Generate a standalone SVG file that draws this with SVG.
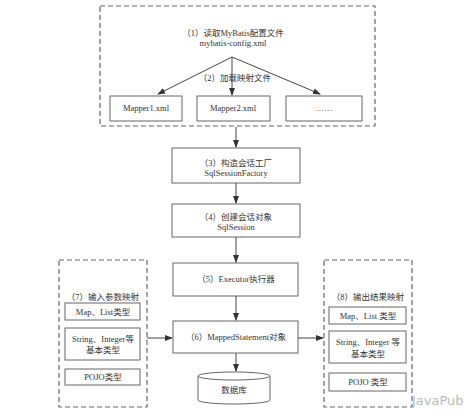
<svg xmlns="http://www.w3.org/2000/svg" width="474" height="418" viewBox="0 0 474 418">
<style>
.bg{fill:#fff}
.box{fill:#fff;stroke:#666;stroke-width:1}
.dash{fill:none;stroke:#666;stroke-width:1.2;stroke-dasharray:5,3}
.t{font-family:"Liberation Serif","Noto Sans CJK SC",serif;font-size:8.5px;fill:#333;text-anchor:middle}
.ln{stroke:#444;stroke-width:1;fill:none}
.wm{font-family:"DejaVu Sans",sans-serif;font-size:13px;fill:#bbb}
</style>
<defs>
<marker id="ah" markerWidth="8" markerHeight="6" refX="7" refY="3" orient="auto" markerUnits="userSpaceOnUse">
<path d="M0,0 L8,3 L0,6 Z" fill="#333"/>
</marker>
</defs>
<rect class="bg" x="0" y="0" width="474" height="418"/>

<g id="config">
<rect class="dash" x="100" y="6" width="275" height="120"/>
<text class="t" x="233" y="36">（1）读取MyBatis配置文件</text>
<text class="t" x="233" y="46">mybatis-config.xml</text>
<text class="t" x="235" y="81">（2）加载映射文件</text>
</g>
<g id="mapper1"><rect class="box" x="110" y="96" width="72" height="25"/><text class="t" x="146" y="111">Mapper1.xml</text></g>
<g id="mapper2"><rect class="box" x="197" y="96" width="73" height="25"/><text class="t" x="233" y="111">Mapper2.xml</text></g>
<g id="mapper3"><rect class="box" x="286" y="96" width="76" height="25"/><text class="t" x="324" y="111">……</text></g>

<g id="factory"><rect class="box" x="172" y="148" width="128" height="35"/><text class="t" x="236" y="166">（3）构造会话工厂</text><text class="t" x="236" y="176">SqlSessionFactory</text></g>
<g id="session"><rect class="box" x="172" y="204" width="128" height="33"/><text class="t" x="236" y="220">（4）创建会话对象</text><text class="t" x="236" y="230">SqlSession</text></g>
<g id="executor"><rect class="box" x="173" y="263" width="125" height="33"/><text class="t" x="236" y="282">（5）Executor执行器</text></g>
<g id="mapped"><rect class="box" x="173" y="321" width="125" height="32"/><text class="t" x="236" y="340">（6）MappedStatement对象</text></g>
<g id="db">
<path class="box" d="M198,376 L198,400 A36,4 0 0 0 270,400 L270,376"/>
<ellipse class="box" cx="234" cy="376" rx="36" ry="4"/>
<text class="t" x="234" y="393">数据库</text>
</g>

<g id="input">
<rect class="dash" x="59" y="260" width="88" height="147"/>
<text class="t" x="103" y="300">（7）输入参数映射</text>
<rect class="box" x="65" y="303" width="75" height="17"/><text class="t" x="103" y="315">Map、List类型</text>
<rect class="box" x="65" y="328" width="75" height="32"/><text class="t" x="103" y="342">String、Integer等</text><text class="t" x="103" y="353">基本类型</text>
<rect class="box" x="65" y="369" width="75" height="16"/><text class="t" x="103" y="380">POJO类型</text>
</g>
<g id="output">
<rect class="dash" x="324" y="260" width="88" height="147"/>
<text class="t" x="368" y="300">（8）输出结果映射</text>
<rect class="box" x="329" y="307" width="77" height="17"/><text class="t" x="368" y="319">Map、List 类型</text>
<rect class="box" x="329" y="331" width="77" height="32"/><text class="t" x="368" y="345">String、Integer 等</text><text class="t" x="368" y="357">基本类型</text>
<rect class="box" x="329" y="373" width="77" height="18"/><text class="t" x="368" y="385">POJO 类型</text>
</g>

<g id="connectors">
<line class="ln" x1="232" y1="57" x2="158" y2="94" marker-end="url(#ah)"/>
<line class="ln" x1="232" y1="57" x2="232" y2="95" marker-end="url(#ah)"/>
<line class="ln" x1="232" y1="57" x2="320" y2="94" marker-end="url(#ah)"/>
<line class="ln" x1="236" y1="127" x2="236" y2="147" marker-end="url(#ah)"/>
<line class="ln" x1="236" y1="183" x2="236" y2="203" marker-end="url(#ah)"/>
<line class="ln" x1="236" y1="237" x2="236" y2="262" marker-end="url(#ah)"/>
<line class="ln" x1="236" y1="296" x2="236" y2="320" marker-end="url(#ah)"/>
<line class="ln" x1="236" y1="353" x2="236" y2="371" marker-end="url(#ah)"/>
<line class="ln" x1="147" y1="338" x2="172" y2="338" marker-end="url(#ah)"/>
<line class="ln" x1="298" y1="338" x2="323" y2="338" marker-end="url(#ah)"/>
</g>
<text class="wm" x="412" y="405">JavaPub</text>
</svg>
